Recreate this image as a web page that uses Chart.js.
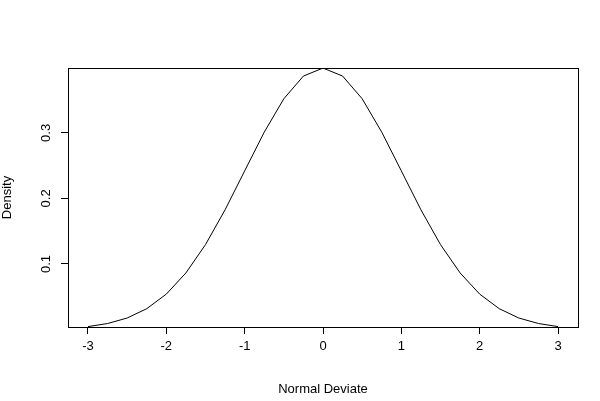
<!DOCTYPE html>
<html><head><meta charset="utf-8">
<script src="https://cdn.jsdelivr.net/npm/chart.js@4/dist/chart.umd.min.js"></script>
<style>body{margin:0;background:#fff}#wrap{width:600px;height:401px}</style>
</head><body><div id="wrap"><canvas id="c"></canvas></div>
<script>
const xs = [-3, -2.75, -2.5, -2.25, -2, -1.75, -1.5, -1.25, -1, -0.75, -0.5, -0.25, 0, 0.25, 0.5, 0.75, 1, 1.25, 1.5, 1.75, 2, 2.25, 2.5, 2.75, 3];
const density = [0.0044, 0.0091, 0.0175, 0.0317, 0.0540, 0.0863, 0.1295, 0.1826, 0.2420, 0.3011, 0.3521, 0.3867, 0.3989, 0.3867, 0.3521, 0.3011, 0.2420, 0.1826, 0.1295, 0.0863, 0.0540, 0.0317, 0.0175, 0.0091, 0.0044];
const xTicks = [-3, -2, -1, 0, 1, 2, 3];
const yTicks = [0.1, 0.2, 0.3];
const font = { family: 'Liberation Sans, Arial', size: 13 };

// box around the plot plus rotated y tick labels, R style
const box = {
  id: 'box',
  afterDraw(c) {
    const a = c.chartArea, g = c.ctx, y = c.scales.y;
    g.save(); g.strokeStyle = '#000'; g.lineWidth = 1;
    g.strokeRect(Math.round(a.left) + 0.5, Math.round(a.top) + 0.5, Math.round(a.width), Math.round(a.height));
    g.fillStyle = '#000'; g.font = font.size + 'px ' + font.family;
    g.textAlign = 'center'; g.textBaseline = 'middle';
    yTicks.forEach(v => {
      g.save(); g.translate(a.left - 22, y.getPixelForValue(v)); g.rotate(-Math.PI / 2);
      g.fillText(v.toFixed(1), 0, 0); g.restore();
    });
    g.restore();
  }
};
new Chart(document.getElementById('c'), {
  type: 'scatter',
  data: { datasets: [{ data: xs.map((x, i) => ({ x, y: density[i] })), showLine: true, borderColor: '#000', borderWidth: 1, pointRadius: 0 }] },
  options: {
    responsive: true, maintainAspectRatio: false, animation: false,
    layout: { padding: { top: 68, right: 22, left: 0, bottom: 0 } },
    plugins: { legend: { display: false }, tooltip: { enabled: false } },
    scales: {
      x: {
        type: 'linear', min: -3.255, max: 3.255,
        afterBuildTicks: s => { s.ticks = xTicks.map(v => ({ value: v })); },
        afterFit: s => { s.height = 74; },
        grid: { drawOnChartArea: false, tickLength: 7, color: '#000' },
        border: { display: false },
        ticks: { color: '#000', font, padding: 5, maxRotation: 0 },
        title: { display: true, text: 'Normal Deviate', color: '#000', font, padding: { top: 12 } }
      },
      y: {
        min: 0.0038, max: 0.399,
        afterBuildTicks: s => { s.ticks = yTicks.map(v => ({ value: v })); },
        afterFit: s => { s.width = 68; },
        grid: { drawOnChartArea: false, tickLength: 7, color: '#000' },
        border: { display: false },
        ticks: { display: false },
        title: { display: true, text: 'Density', color: '#000', font, padding: 0 }
      }
    }
  },
  plugins: [box]
});
</script></body></html>
